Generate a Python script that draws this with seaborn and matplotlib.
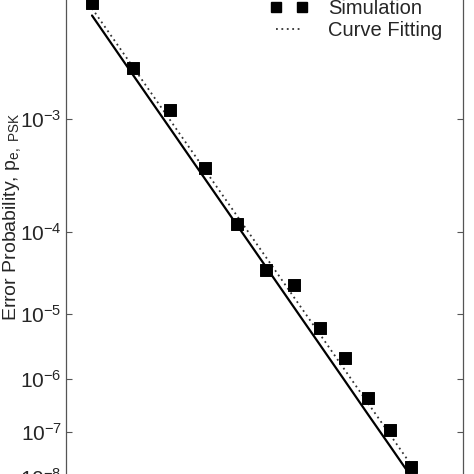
import numpy as np
import pandas as pd
import matplotlib
matplotlib.use("Agg")
import matplotlib.pyplot as plt
from matplotlib.lines import Line2D
import seaborn as sns

# data
snr = [10, 11, 12, 13, 14, 15, 16, 17, 18, 19, 20, 21]
pe_theory = [4.35e-3, 1.99e-3, 8.45e-4, 3.31e-4, 1.20e-4, 4.02e-5,
             1.24e-5, 3.54e-6, 9.31e-7, 2.24e-7, 5.05e-8, 1.04e-8]
pe_sim = [5.03e-3, 2.21e-3, 1.17e-3, 4.06e-4, 1.23e-4, 3.74e-5,
          2.44e-5, 6.38e-6, 2.24e-6, 4.55e-7, 1.11e-7, 1.71e-8]
pe_fit = [4.73e-3, 2.23e-3, 9.75e-4, 3.96e-4, 1.49e-4, 5.22e-5,
          1.69e-5, 5.11e-6, 1.42e-6, 3.66e-7, 8.81e-8, 1.95e-8]
ytick_vals = [1e-8, 1e-7, 1e-6, 1e-5, 1e-4, 1e-3]
ytick_labels = [r"$10^{-8}$", r"$10^{-7}$", r"$10^{-6}$", r"$10^{-5}$",
                r"$10^{-4}$", r"$10^{-3}$"]

df = pd.DataFrame({"snr": snr, "theory": pe_theory, "sim": pe_sim, "fit": pe_fit})

sns.set_style("white")
plt.rcParams["font.family"] = ["Liberation Sans", "DejaVu Sans"]
plt.rcParams["mathtext.fontset"] = "custom"
plt.rcParams["mathtext.rm"] = "Liberation Sans"
plt.rcParams["mathtext.it"] = "Liberation Sans:italic"
plt.rcParams["mathtext.bf"] = "Liberation Sans:bold"


def fwd(p):
    with np.errstate(all="ignore"):
        return -np.log(-np.log10(p) - 0.8)


def inv(t):
    with np.errstate(all="ignore"):
        return 10 ** (-(0.8 + np.exp(-t)))


fig = plt.figure(figsize=(4.74, 4.74), dpi=100)
# figure is a crop of a larger plot: axes run past top and bottom
ax = fig.add_axes([66 / 474, -0.0065, 397 / 474, 1.1416])

sns.lineplot(data=df, x="snr", y="theory", ax=ax, color="black", lw=1.6)
sns.lineplot(data=df, x="snr", y="fit", ax=ax, color="#333333", lw=1.3,
             linestyle=(0, (1, 2.0)))
sns.scatterplot(data=df, x="snr", y="sim", ax=ax, marker="s", s=72,
                color="black", edgecolor="black", zorder=5)

ax.set_xscale("log")
ax.set_yscale("function", functions=(fwd, inv))
ax.set_xlim(9.413, 23.70)
ax.set_ylim(1e-8, 1e-2)
ax.set_yticks(ytick_vals)
ax.set_yticklabels(ytick_labels)
ax.set_xticks([])
ax.minorticks_off()
ax.tick_params(axis="y", direction="in", length=4, width=0.8, labelsize=15,
               pad=3, right=True, left=True, color="#555555")
ax.set_xlabel("")
ax.set_ylabel(r"Error Probability, p$_{\mathrm{e,\ PSK}}$", fontsize=14)
ax.yaxis.set_label_coords(-0.108, 0.48)
for sp in ax.spines.values():
    sp.set_color("#555555")
    sp.set_linewidth(0.9)

handles = [
    Line2D([], [], color="black", marker="s", linestyle="none", markersize=7.8),
    Line2D([], [], color="#333333", lw=1.3, linestyle=(0, (1, 2.0))),
]
ax.legend(handles, ["Simulation", "Curve Fitting"], loc="upper left",
          bbox_to_anchor=(270 / 474, 1.003), bbox_transform=fig.transFigure,
          frameon=False, fontsize=14.5, numpoints=2, borderpad=0,
          borderaxespad=0, handlelength=1.9, handletextpad=1.0,
          labelspacing=0.15)

fig.savefig("out.png", dpi=100)
